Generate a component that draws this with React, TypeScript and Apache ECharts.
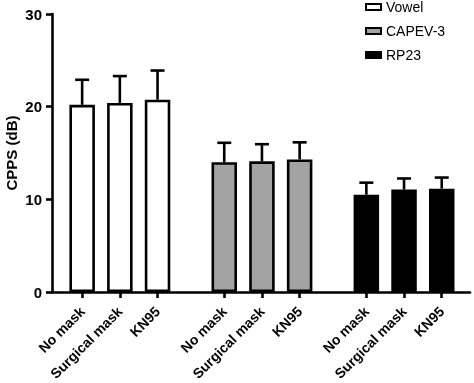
import React, { useEffect, useRef } from "react";
import * as echarts from "echarts";

const conditions = ["No mask", "Surgical mask", "KN95"];
const groups = ["Vowel", "CAPEV-3", "RP23"];
const vowelMean = [20.2, 20.4, 20.75];
const vowelSD = [2.7, 2.9, 3.15];
const capevMean = [14.0, 14.1, 14.3];
const capevSD = [2.1, 1.85, 1.85];
const rp23Mean = [10.5, 11.05, 11.15];
const rp23SD = [1.3, 1.2, 1.2];
const yTicks = [0, 10, 20, 30];

const FONT = "'Liberation Sans', Arial, Helvetica, sans-serif";
const GROUP_STRIDE = 3.77;
const OFFSET = 0.8;
const X_MAX = 11.09;

export default function App() {
  const ref = useRef<HTMLDivElement>(null);
  useEffect(() => {
    if (!ref.current) return;
    const chart = echarts.init(ref.current, null, { renderer: "svg" });
    const means = [vowelMean, capevMean, rp23Mean];
    const sds = [vowelSD, capevSD, rp23SD];
    const fills = ["#ffffff", "#a3a3a3", "#000000"];
    const pos = (g: number, i: number) => OFFSET + g * GROUP_STRIDE + i;
    const tickVals: number[] = [];
    const tickLabels: string[] = [];
    groups.forEach((_, g) =>
      conditions.forEach((c, i) => {
        tickVals.push(pos(g, i));
        tickLabels.push(c);
      })
    );
    const labelFor = (v: number) => {
      let best = 0;
      let d = Infinity;
      tickVals.forEach((t, k) => {
        if (Math.abs(t - v) < d) {
          d = Math.abs(t - v);
          best = k;
        }
      });
      return tickLabels[best];
    };
    const barSeries = groups.map((name, g) => ({
      name,
      type: "bar",
      barWidth: 25.5,
      barGap: "-100%",
      itemStyle: { color: fills[g], borderColor: "#000", borderWidth: 2.6 },
      data: means[g].map((m, i) => [pos(g, i), m]),
    }));
    const errData: number[][] = [];
    groups.forEach((_, g) =>
      means[g].forEach((m, i) => errData.push([pos(g, i), m, m + sds[g][i]]))
    );
    chart.setOption({
      animation: false,
      grid: { left: 52, right: 4, top: 14, bottom: 91, containLabel: false, outerBoundsMode: "none" },
      legend: {
        data: groups,
        orient: "vertical",
        left: 360,
        top: -5,
        itemWidth: 15,
        itemHeight: 6,
        itemGap: 10,
        textStyle: { fontFamily: FONT, fontSize: 14, color: "#000" },
        icon: "rect",
      },
      xAxis: {
        type: "value",
        min: 0,
        max: X_MAX,
        splitLine: { show: false },
        axisLine: { show: true, onZero: false, lineStyle: { color: "#000", width: 2.6 } },
        axisTick: { show: true, customValues: tickVals, length: 6, lineStyle: { color: "#000", width: 2.6 } },
        axisLabel: {
          show: true,
          customValues: tickVals,
          rotate: 45,
          margin: 17,
          align: "right",
          verticalAlign: "middle",
          formatter: (v: number) => labelFor(v),
          fontFamily: FONT,
          fontWeight: "bold",
          fontSize: 14,
          color: "#000",
        },
      },
      yAxis: {
        type: "value",
        min: 0,
        max: 30,
        interval: 10,
        name: "CPPS (dB)",
        nameLocation: "middle",
        nameGap: 33,
        nameMoveOverlap: false,
        nameTextStyle: { fontFamily: FONT, fontWeight: "bold", fontSize: 15, color: "#000" },
        splitLine: { show: false },
        axisLine: { show: true, lineStyle: { color: "#000", width: 2.6 } },
        axisTick: { show: true, length: 6, lineStyle: { color: "#000", width: 2.6 } },
        axisLabel: {
          margin: 10,
          fontFamily: FONT,
          fontWeight: "bold",
          fontSize: 15,
          color: "#000",
          formatter: (v: number) => (yTicks.includes(v) ? String(v) : ""),
        },
      },
      series: [
        ...barSeries,
        {
          type: "custom",
          name: "err",
          z: 5,
          data: errData,
          renderItem: (params: any, api: any) => {
            const x = api.value(0);
            const top = api.coord([x, api.value(2)]);
            const bot = api.coord([x, api.value(1)]);
            const half = 7;
            const style = { stroke: "#000", lineWidth: 2.6 };
            return {
              type: "group",
              children: [
                { type: "line", shape: { x1: top[0], y1: top[1], x2: bot[0], y2: bot[1] }, style },
                { type: "line", shape: { x1: top[0] - half, y1: top[1], x2: top[0] + half, y2: top[1] }, style },
              ],
            };
          },
        },
      ],
    });
    return () => chart.dispose();
  }, []);
  return <div ref={ref} style={{ position: "fixed", left: 0, top: 0, width: 474, height: 383 }} />;
}
